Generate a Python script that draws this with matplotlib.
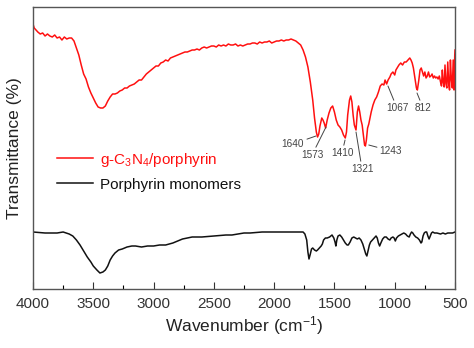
import matplotlib
matplotlib.use("Agg")
import matplotlib.pyplot as plt
import numpy as np

plt.rcParams['font.family'] = ['Liberation Sans', 'DejaVu Sans']
plt.rcParams['mathtext.fontset'] = 'custom'
plt.rcParams['mathtext.rm'] = 'Liberation Sans'
plt.rcParams['mathtext.it'] = 'Liberation Sans:italic'
plt.rcParams['mathtext.bf'] = 'Liberation Sans:bold'

# ---- data (wavenumber, transmittance in arbitrary units) ----
red_wn = [4000, 3990, 3975, 3960, 3940, 3920, 3900, 3880, 3860, 3840, 3820, 3800, 3780, 3760, 3740, 3720,
          3700, 3680, 3660, 3640, 3620, 3600, 3580, 3560, 3540, 3520, 3500, 3480, 3460, 3440, 3420, 3400,
          3380, 3360, 3340, 3320, 3300, 3280, 3260, 3240, 3220, 3200, 3180, 3160, 3140, 3120, 3100, 3080,
          3060, 3040, 3020, 3000, 2980, 2960, 2940, 2920, 2900, 2880, 2860, 2840, 2820, 2800, 2780, 2760,
          2740, 2720, 2700, 2680, 2660, 2640, 2620, 2600, 2580, 2560, 2540, 2520, 2500, 2480, 2460, 2440,
          2420, 2400, 2380, 2360, 2340, 2320, 2300, 2280, 2260, 2240, 2220, 2200, 2180, 2160, 2140, 2120,
          2100, 2080, 2060, 2040, 2020, 2000, 1980, 1960, 1940, 1920, 1900, 1880, 1860, 1840, 1820, 1800,
          1780, 1760, 1740, 1720, 1700, 1680, 1665, 1650, 1640, 1630, 1620, 1605, 1595, 1585, 1573, 1560,
          1545, 1530, 1515, 1500, 1485, 1470, 1455, 1440, 1425, 1410, 1400, 1390, 1375, 1365, 1355, 1345,
          1335, 1321, 1310, 1300, 1290, 1280, 1270, 1260, 1250, 1243, 1235, 1225, 1215, 1205, 1195, 1180,
          1165, 1150, 1135, 1120, 1105, 1090, 1080, 1067, 1055, 1040, 1030, 1015, 1000, 990, 980, 965,
          950, 935, 920, 905, 890, 875, 865, 855, 845, 830, 820, 812, 800, 790, 780, 770, 760, 750, 740,
          730, 720, 710, 700, 690, 680, 670, 660, 650, 640, 630, 620, 612, 605, 598, 590, 583, 575, 568,
          560, 552, 545, 538, 530, 522, 515, 508, 502, 500]
red_px = [24, 28, 30, 32, 34, 33, 36, 34, 36, 37, 35, 38, 37, 40, 37, 39,
          38, 38, 41, 48, 55, 65, 74, 79, 87, 93, 98, 103, 107, 108, 108, 106,
          101, 97, 94, 94, 93, 91, 90, 88, 88, 86, 85, 84, 82, 80, 80, 77,
          74, 72, 70, 68, 66, 66, 63, 62, 60, 61, 58, 57, 56, 55, 54, 53,
          52, 52, 51, 50, 50, 49, 50, 48, 47, 48, 47, 46, 46, 47, 45, 46,
          45, 46, 44, 45, 45, 44, 46, 45, 46, 45, 44, 44, 43, 43, 44, 42,
          43, 42, 42, 41, 43, 42, 41, 41, 40, 41, 40, 40, 39, 40, 41, 43,
          45, 50, 57, 67, 82, 100, 118, 132, 137, 134, 126, 118, 120, 123, 128, 120,
          113, 108, 106, 112, 120, 125, 127, 130, 135, 138, 132, 115, 100, 96, 102, 115,
          125, 130, 112, 106, 112, 120, 125, 135, 145, 146, 140, 128, 124, 118, 112, 105,
          100, 97, 92, 86, 84, 85, 80, 84, 80, 77, 74, 72, 75, 70, 68, 65,
          63, 65, 62, 62, 60, 58, 60, 63, 68, 80, 88, 90, 80, 70, 68, 72, 76, 72, 78,
          76, 72, 77, 76, 74, 78, 76, 78, 77, 79, 76, 82, 86, 70, 82, 87, 65, 84, 88,
          62, 85, 90, 60, 80, 88, 60, 90, 55, 50]

black_wn = [4000, 3900, 3800, 3750, 3700, 3670, 3640, 3610, 3580, 3550, 3520, 3500, 3470, 3445, 3420, 3400,
            3380, 3360, 3340, 3320, 3290, 3260, 3220, 3180, 3150, 3100, 3050, 3000, 2950, 2900, 2870, 2840,
            2800, 2760, 2720, 2680, 2600, 2500, 2400, 2350, 2300, 2250, 2200, 2100, 2000, 1900, 1800, 1760,
            1745, 1730, 1720, 1711, 1700, 1690, 1680, 1665, 1650, 1640, 1625, 1610, 1600, 1590, 1575, 1560,
            1540, 1520, 1505, 1495, 1488, 1480, 1470, 1455, 1440, 1425, 1410, 1395, 1385, 1370, 1355, 1340,
            1325, 1310, 1295, 1280, 1265, 1250, 1240, 1231, 1220, 1210, 1200, 1185, 1170, 1155, 1145, 1135,
            1125, 1115, 1100, 1085, 1070, 1055, 1040, 1030, 1015, 1005, 995, 985, 970, 955, 940, 925,
            910, 895, 880, 870, 860, 850, 840, 825, 810, 795, 782, 775, 765, 755, 745, 735,
            725, 715, 705, 695, 685, 670, 650, 620, 600, 580, 560, 540, 520, 500]
black_px = [232, 233, 233, 232, 234, 236, 240, 245, 251, 257, 262, 266, 270, 273, 272, 270,
            266, 260, 256, 253, 250, 249, 247, 246, 246, 247, 246, 246, 245, 245, 244, 243,
            241, 239, 238, 237, 237, 236, 235, 235, 234, 233, 233, 232, 232, 232, 232, 232,
            234, 240, 252, 259, 254, 249, 248, 250, 251, 250, 248, 246, 244, 240, 238, 238,
            237, 235, 238, 242, 246, 240, 236, 235, 237, 240, 243, 245, 245, 242, 238, 237,
            238, 239, 238, 240, 244, 250, 254, 256, 250, 245, 242, 240, 238, 236, 238, 243,
            246, 243, 239, 237, 237, 239, 240, 238, 237, 238, 241, 238, 236, 235, 234, 233,
            234, 236, 237, 234, 232, 233, 235, 237, 238, 240, 243, 242, 236, 233, 232, 232,
            236, 239, 236, 233, 232, 233, 233, 234, 233, 234, 233, 233, 233, 232]

red_T = [289 - v for v in red_px]
black_T = [289 - v for v in black_px]

peak_labels = ['1640', '1573', '1410', '1321', '1243', '1067', '812']
peak_xy = [(1653, 153), (1570, 162), (1412, 149), (1321, 157), (1215, 144), (1056, 203), (815, 196)]
peak_text = [(1844, 145), (1686, 134), (1437, 136), (1271, 120), (1031, 138), (981, 181), (765, 181)]

series_labels = ['g-C$_\\mathregular{3}$N$_\\mathregular{4}$/porphyrin', 'Porphyrin monomers']
xticks = [4000, 3500, 3000, 2500, 2000, 1500, 1000, 500]

fig = plt.figure(figsize=(4.74, 3.48), dpi=100)
ax = fig.add_axes([33 / 474, 59 / 348, 422 / 474, 282 / 348])

l1, = ax.plot(red_wn, red_T, color='#ff1010', lw=1.1)
l2, = ax.plot(black_wn, black_T, color='#111111', lw=1.1)

ax.set_xlim(4000, 500)
ax.set_ylim(0, 282)
ax.set_xticks(xticks)
ax.set_xticks(np.arange(3750, 500, -500), minor=True)
ax.set_yticks([])
ax.tick_params(axis='x', which='major', direction='in', length=5, width=0.8,
               labelsize=11, colors='#333333', pad=6, top=False)
ax.tick_params(axis='x', which='minor', direction='in', length=3, width=0.8, top=False)
for s in ax.spines.values():
    s.set_color('#555555')
    s.set_linewidth(1.0)

ax.set_xlabel('Wavenumber (cm$^{\\mathregular{-1}}$)', fontsize=12.5, color='#222222', labelpad=2)
ax.set_ylabel('Transmittance (%)', fontsize=12.5, color='#222222', labelpad=8)

for lab, xy, xt in zip(peak_labels, peak_xy, peak_text):
    ax.annotate(lab, xy=xy, xytext=xt, textcoords='data', ha='center', va='center',
                fontsize=7.2, color='#444444',
                arrowprops=dict(arrowstyle='-', color='#444444', lw=0.7, shrinkA=0, shrinkB=0))

leg = ax.legend([l1, l2], series_labels, loc='center left', bbox_to_anchor=(0.057, 0.418),
                frameon=False, fontsize=11, handlelength=2.35, handletextpad=0.45,
                labelspacing=0.6, borderpad=0, borderaxespad=0)
for t, c in zip(leg.get_texts(), ['#ff1010', '#111111']):
    t.set_color(c)

fig.savefig('out.png', dpi=100)
